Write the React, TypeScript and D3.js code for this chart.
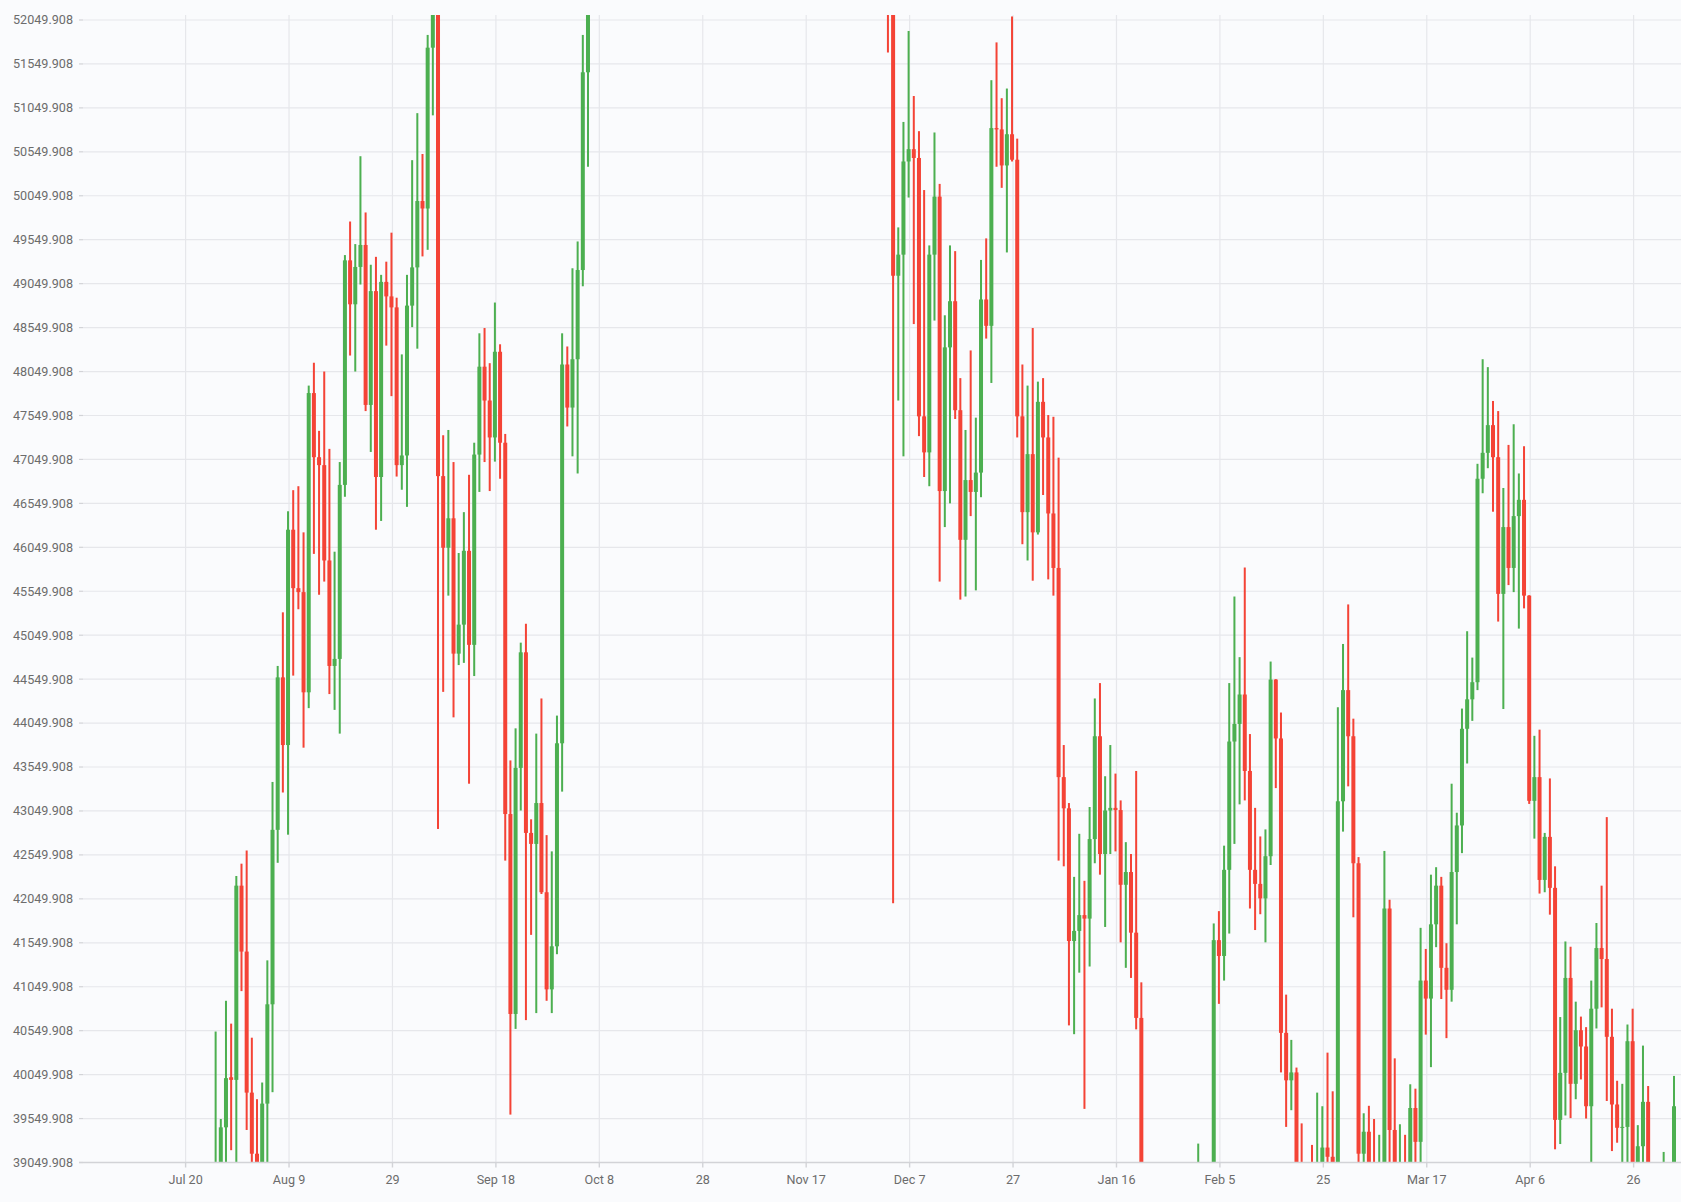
import React from 'react';
import * as d3 from 'd3';

// ---------- DATA (daily OHLC, one array per month: [open, high, low, close]) ----------
const jul2021 = [
  [35045, 35060, 32711, 33505], [33505, 33978, 32700, 33800], [33800, 34950, 33310, 34660], [34660, 35950, 34450, 35290],
  [35290, 35295, 33125, 33690], [33690, 35120, 33530, 34220], [34220, 35060, 33770, 33860], [33860, 33915, 32080, 32875],
  [32875, 34100, 32260, 33815], [33815, 34265, 33005, 33515], [33515, 34590, 33330, 34260], [34260, 34680, 32660, 33085],
  [33085, 33340, 32200, 32730], [32730, 33125, 31600, 32820], [32820, 33185, 31135, 31780], [31780, 32250, 31020, 31390],
  [31390, 31950, 31160, 31535], [31535, 32435, 31110, 31780], [31780, 31900, 30410, 30840], [30840, 31065, 29280, 29790],
  [29790, 32860, 29480, 32140], [32140, 32580, 31710, 32290], [32290, 33650, 31750, 33630], [33630, 34500, 33400, 34260],
  [34260, 35500, 33880, 35420], [35420, 40540, 35250, 37300], [37300, 39545, 36400, 39450], [39450, 40890, 38800, 40010],
  [40020, 40630, 39190, 39990], [39990, 42310, 38320, 42200], [42200, 42450, 41000, 41450],
];
const aug2021 = [
  [41450, 42600, 39420, 39845], [39845, 40470, 38700, 39150], [39150, 39770, 37640, 38200], [38200, 39960, 37500, 39720],
  [39720, 41350, 37330, 40850], [40850, 43380, 39850, 42835], [42835, 44700, 42460, 44570], [44570, 45310, 43260, 43800],
  [43800, 46460, 42780, 46250], [46250, 46700, 44590, 45585], [45585, 46745, 45345, 45540], [45540, 46220, 43770, 44400],
  [44400, 47890, 44220, 47805], [47805, 48150, 45975, 47075], [47075, 47375, 45510, 46985], [46985, 48050, 45660, 45900],
  [45900, 47170, 44380, 44700], [44700, 46000, 44200, 44780], [44780, 47020, 43930, 46760], [46760, 49375, 46625, 49315],
  [49315, 49757, 48232, 48815], [48815, 49500, 48050, 49240], [49240, 50500, 49040, 49490], [49490, 49860, 47600, 47670],
  [47670, 49265, 47135, 48965], [48965, 49355, 46250, 46850], [46850, 49150, 46350, 49070], [49070, 49300, 48345, 48905],
  [48905, 49630, 47770, 48780], [48780, 48890, 46855, 46985], [46985, 48245, 46705, 47095],
];
const sep2021 = [
  [47095, 49150, 46510, 48800], [48800, 50455, 48555, 49235], [49235, 50990, 48310, 49990], [49990, 50525, 49360, 49905],
  [49905, 51880, 49435, 51735], [51735, 52780, 50965, 52660], [52660, 52920, 42845, 46860], [46860, 47325, 44405, 46045],
  [46045, 47385, 45500, 46380], [46380, 47020, 44115, 44840], [44840, 45985, 44710, 45170], [45170, 46450, 44735, 46010],
  [46010, 46875, 43360, 44940], [44940, 47240, 44585, 47105], [47105, 48485, 46680, 48105], [48105, 48545, 47020, 47720],
  [47720, 48145, 46690, 47300], [47300, 48835, 47025, 48275], [48275, 48360, 46830, 47240], [47240, 47340, 42485, 43015],
  [43015, 43625, 39595, 40740], [40740, 43990, 40570, 43540], [43540, 44965, 43055, 44855], [44855, 45180, 40670, 42800],
  [42800, 42955, 41640, 42675], [42675, 43930, 40750, 43140], [43140, 44330, 42105, 42125], [42125, 42775, 40890, 41020],
  [41020, 42590, 40750, 41510], [41510, 44135, 41420, 43820],
];
const oct2021 = [
  [43820, 48485, 43270, 48130], [48130, 48335, 47425, 47640], [47640, 49225, 47085, 48190], [48190, 49530, 46890, 49205],
  [49205, 51880, 49020, 51455], [51455, 55750, 50380, 55320], [55320, 55340, 53360, 53800], [53800, 56100, 53620, 53965],
  [53965, 55490, 53660, 54965], [54965, 56560, 54090, 54690], [54690, 57840, 54420, 57480], [57480, 57680, 53880, 56005],
  [56005, 57740, 54170, 57370], [57370, 58530, 56820, 57345], [57345, 62930, 56850, 61670], [61670, 62330, 60150, 60875],
  [60875, 61720, 58960, 61530], [61530, 62700, 59845, 62040], [62040, 64490, 61320, 64260], [64260, 67000, 63480, 66000],
  [66000, 66640, 62000, 62190], [62190, 63730, 60000, 60690], [60690, 61750, 59670, 61290], [61290, 61490, 59510, 60850],
  [60850, 63710, 60650, 63080], [63080, 63290, 59820, 60330], [60330, 61500, 58000, 58410], [58410, 62500, 57820, 60575],
  [60575, 62980, 60175, 62255], [62255, 62360, 60720, 61880], [61880, 62400, 60000, 61300],
];
const nov2021 = [
  [61300, 62440, 59400, 61000], [61000, 64270, 60620, 63225], [63225, 63500, 60380, 62935], [62935, 63125, 60680, 61445],
  [61445, 62600, 60720, 61005], [61005, 61560, 60050, 61530], [61530, 63290, 61380, 63275], [63275, 67790, 63270, 67525],
  [67525, 68530, 66380, 66950], [66950, 69000, 62820, 64880], [64880, 65600, 64100, 64155], [64155, 65000, 62250, 64470],
  [64470, 64915, 63300, 64410], [64410, 65500, 63580, 65500], [65500, 66400, 63400, 63620], [63620, 63620, 58550, 60100],
  [60100, 60880, 58370, 60370], [60370, 60980, 56475, 56940], [56940, 58370, 55580, 58120], [58120, 59850, 57350, 59700],
  [59700, 60050, 58470, 58730], [58730, 59290, 55610, 56290], [56290, 57870, 55300, 57570], [57570, 57800, 55880, 57160],
  [57160, 59400, 56800, 58960], [58960, 59180, 53500, 53730], [53730, 55330, 53670, 54720], [54720, 57450, 53260, 57275],
  [57275, 58870, 56700, 57800], [57800, 59250, 56000, 56950],
];
const dec2021 = [
  [56950, 59040, 56460, 57185], [57185, 57380, 55840, 56480], [56480, 57600, 51680, 53600], [53600, 53860, 42000, 49140],
  [49140, 49690, 47720, 49380], [49380, 50890, 47085, 50440], [50440, 51925, 50030, 50580], [50580, 51185, 48590, 50480],
  [50480, 50785, 47315, 47540], [47540, 50115, 46850, 47130], [47130, 49485, 46745, 49380], [49380, 50770, 48630, 50040],
  [50040, 50185, 45660, 46690], [46690, 48690, 46280, 48325], [48325, 49485, 46550, 48850], [48850, 49420, 47510, 47610],
  [47610, 47975, 45455, 46135], [46135, 47385, 45490, 46815], [46815, 48290, 46405, 46680], [46680, 47525, 45560, 46900],
  [46900, 49320, 46620, 48870], [48870, 49565, 48425, 48570], [48570, 51365, 47920, 50820], [50820, 51795, 50380, 50805],
  [50805, 51160, 50140, 50395], [50395, 51270, 49405, 50750], [50750, 52090, 50440, 50460], [50460, 50700, 47300, 47540],
  [47540, 48130, 46085, 46450], [46450, 47890, 45900, 47110], [47110, 48545, 45670, 46220],
];
const jan2022 = [
  [46220, 47935, 46195, 47705], [47705, 47975, 46645, 47300], [47300, 47555, 45685, 46435], [46435, 47535, 45500, 45815],
  [45815, 47070, 42485, 43435], [43435, 43800, 42420, 43080], [43080, 43140, 40610, 41570], [41570, 42300, 40510, 41685],
  [41685, 42790, 41210, 41865], [41865, 42255, 39660, 41825], [41825, 43095, 41280, 42730], [42730, 44330, 42455, 43900],
  [43900, 44505, 42325, 42560], [42560, 43445, 41730, 43055], [43055, 43800, 42560, 43085], [43085, 43475, 42590, 43060],
  [43060, 43170, 41555, 42210], [42210, 42695, 41265, 42355], [42355, 42560, 41150, 41665], [41665, 43505, 40565, 40695],
  [40695, 41100, 35440, 36450], [36450, 36835, 34010, 35030], [35030, 36500, 34600, 36275], [36275, 37550, 32920, 36655],
  [36655, 37545, 35700, 36955], [36955, 38920, 36230, 36810], [36810, 37230, 35510, 37160], [37160, 38000, 36150, 37715],
  [37715, 38720, 37520, 38165], [38165, 38360, 37350, 37915], [37915, 38740, 36630, 38465],
];
const feb2022 = [
  [38465, 39265, 38000, 38690], [38690, 38855, 36590, 36895], [36895, 37390, 36250, 37310], [37310, 41770, 36900, 41580],
  [41580, 41910, 40855, 41400], [41400, 42655, 41120, 42380], [42380, 44505, 41655, 43840], [43840, 45490, 42675, 44040],
  [44040, 44800, 43125, 44375], [44375, 45820, 43170, 43505], [43505, 43925, 41940, 42380], [42380, 43085, 41695, 42220],
  [42220, 42760, 41875, 42055], [42055, 42840, 41555, 42535], [42535, 44750, 42435, 44545], [44545, 44550, 43310, 43875],
  [43875, 44170, 40075, 40525], [40525, 40960, 39455, 39985], [39985, 40445, 39645, 40075], [40075, 40130, 38000, 38390],
  [38390, 39495, 36800, 37010], [37010, 38430, 36350, 38230], [38230, 39250, 37035, 37250], [37250, 39845, 34320, 38330],
  [38330, 39690, 38015, 39220], [39220, 40300, 38600, 39115], [39115, 39860, 37000, 37700], [37700, 44230, 37450, 43160],
];
const mar2022 = [
  [43160, 44950, 42815, 44425], [44425, 45400, 43330, 43900], [43900, 44100, 41840, 42455], [42455, 42525, 38550, 39150],
  [39150, 39610, 38090, 39400], [39400, 39695, 38090, 38420], [38420, 39545, 37155, 37990], [37990, 39365, 37870, 38730],
  [38730, 42595, 38655, 41940], [41940, 42040, 38540, 39420], [39420, 40235, 38225, 38730], [38730, 39485, 38660, 38810],
  [38810, 39365, 37580, 37780], [37780, 39940, 37555, 39670], [39670, 39890, 38100, 39285], [39285, 41720, 38830, 41120],
  [41120, 41480, 40505, 40915], [40915, 42325, 40135, 41760], [41760, 42410, 41500, 42200], [42200, 42300, 40910, 41265],
  [41265, 41545, 40465, 41015], [41015, 43360, 40880, 42355], [42355, 43030, 41760, 42885], [42885, 44215, 42570, 43985],
  [43985, 45095, 43590, 44320], [44320, 44795, 44075, 44515], [44515, 47000, 44425, 46830], [46830, 48190, 46665, 47125],
  [47125, 48100, 46950, 47440], [47440, 47715, 46455, 47075], [47075, 47600, 45205, 45520],
];
const apr2022 = [
  [45520, 46725, 44210, 46280], [46280, 47215, 45620, 45815], [45815, 47450, 45540, 46405], [46405, 46890, 45125, 46590],
  [46590, 47200, 45355, 45500], [45500, 45505, 43130, 43165], [43165, 43905, 42735, 43435], [43435, 43975, 42110, 42265],
  [42265, 42800, 42125, 42755], [42755, 43420, 41870, 42175], [42175, 42420, 39200, 39535], [39535, 40705, 39260, 40070],
  [40070, 41565, 39585, 41150], [41150, 41505, 39555, 39945], [39945, 40880, 39770, 40555], [40555, 40710, 39995, 40370],
  [40370, 40590, 39550, 39690], [39690, 41120, 38540, 40800], [40800, 41775, 40575, 41490], [41490, 42200, 40815, 41365],
  [41365, 42980, 39750, 40480], [40480, 40800, 39180, 39710], [39710, 39980, 39275, 39445], [39445, 39945, 38930, 39455],
  [39455, 40620, 38200, 40430], [40430, 40800, 37700, 38110], [38110, 39475, 37880, 39235], [39235, 40380, 38880, 39740],
  [39740, 39920, 38175, 38595], [38595, 38795, 37580, 37630],
];
const may2022 = [
  [37630, 38675, 37385, 38470], [38470, 39170, 38055, 38525], [38525, 38655, 37515, 37730], [37730, 40035, 37670, 39690],
];

const monthBlocks: [string, number[][]][] = [
  ['2021-07-01', jul2021], ['2021-08-01', aug2021], ['2021-09-01', sep2021], ['2021-10-01', oct2021],
  ['2021-11-01', nov2021], ['2021-12-01', dec2021], ['2022-01-01', jan2022], ['2022-02-01', feb2022],
  ['2022-03-01', mar2022], ['2022-04-01', apr2022], ['2022-05-01', may2022],
];

// axis values
const yTickStart = 39049.908;
const yTickStep = 500;
const yTickCount = 27;
const xTickDates = ['2021-07-20', '2021-08-09', '2021-08-29', '2021-09-18', '2021-10-08', '2021-10-28', '2021-11-17',
  '2021-12-07', '2021-12-27', '2022-01-16', '2022-02-05', '2022-02-25', '2022-03-17', '2022-04-06', '2022-04-26'];
const xTickLabels = ['Jul 20', 'Aug 9', '29', 'Sep 18', 'Oct 8', '28', 'Nov 17', 'Dec 7', '27', 'Jan 16', 'Feb 5', '25', 'Mar 17', 'Apr 6', '26'];
const xDomain = ['2021-06-30T03:50:00Z', '2022-05-05T03:50:00Z'];
const yDomain = [39049.908, 52106.8];

// ---------- LAYOUT ----------
const W = 1681;
const H = 1202;
const PLOT_LEFT = 83;
const PLOT_RIGHT = 1681;
const PLOT_TOP = 15;
const PLOT_BOTTOM = 1162.5;

const UP = '#4caf50';
const DOWN = '#f44336';
const GRID = '#e6e7eb';
const AXIS = '#d2d3d7';
const LABEL = '#6c6c6c';
const BG = '#fafbfd';
const FONT = 'Roboto, "Noto Sans", sans-serif';

const DAY = 86400000;

type Candle = { date: Date; o: number; h: number; l: number; c: number };

const candles: Candle[] = monthBlocks.flatMap(([start, rows]) => {
  const t0 = Date.parse(start + 'T00:00:00Z');
  return rows.map((r, i) => ({ date: new Date(t0 + i * DAY), o: r[0], h: r[1], l: r[2], c: r[3] }));
});

export default function App() {
  const x = d3.scaleUtc().domain(xDomain.map((s) => new Date(s))).range([PLOT_LEFT, PLOT_RIGHT]);
  const y = d3.scaleLinear().domain(yDomain).range([PLOT_BOTTOM, PLOT_TOP]);
  const yTicks = d3.range(yTickCount).map((i) => yTickStart + i * yTickStep);
  const xTicks = xTickDates.map((s) => new Date(s + 'T00:00:00Z'));
  const bodyW = 4;
  const wickW = 2;

  return (
    <div style={{ position: 'absolute', left: 0, top: 0, width: W, height: H, background: BG }}>
      <svg width={W} height={H} style={{ display: 'block' }}>
        <defs>
          <clipPath id="plotClip">
            <rect x={PLOT_LEFT} y={PLOT_TOP} width={PLOT_RIGHT - PLOT_LEFT} height={PLOT_BOTTOM - PLOT_TOP} />
          </clipPath>
        </defs>
        <rect x={0} y={0} width={W} height={H} fill={BG} />

        {/* vertical grid */}
        {xTicks.map((d, i) => (
          <line key={'vg' + i} x1={x(d)} x2={x(d)} y1={PLOT_TOP} y2={PLOT_BOTTOM} stroke={GRID} strokeWidth={1.2} />
        ))}
        {/* horizontal grid + y labels */}
        {yTicks.map((v, i) => (
          <g key={'hg' + i}>
            <line x1={PLOT_LEFT} x2={PLOT_RIGHT} y1={y(v)} y2={y(v)} stroke={GRID} strokeWidth={1.2} />
            <line x1={PLOT_LEFT - 4} x2={PLOT_LEFT} y1={y(v)} y2={y(v)} stroke={AXIS} strokeWidth={1.2} />
            <text x={PLOT_LEFT - 10} y={y(v)} dy="0.35em" textAnchor="end" fontFamily={FONT} fontSize={12.6} fill={LABEL}>
              {v.toFixed(3)}
            </text>
          </g>
        ))}

        {/* candles */}
        <g clipPath="url(#plotClip)">
          {candles.map((d, i) => {
            const cx = x(d.date) - 1;
            const col = d.c >= d.o ? UP : DOWN;
            const top = y(Math.max(d.o, d.c));
            const bot = y(Math.min(d.o, d.c));
            return (
              <g key={'c' + i}>
                <rect x={cx - wickW / 2} y={y(d.h)} width={wickW} height={Math.max(0.5, y(d.l) - y(d.h))} fill={col} />
                <rect x={cx - bodyW / 2} y={top} width={bodyW} height={Math.max(1, bot - top)} fill={col} />
              </g>
            );
          })}
        </g>

        {/* x axis */}
        <line x1={PLOT_LEFT - 4} x2={PLOT_RIGHT} y1={PLOT_BOTTOM} y2={PLOT_BOTTOM} stroke={AXIS} strokeWidth={1.6} />
        {xTicks.map((d, i) => (
          <g key={'xt' + i}>
            <line x1={x(d)} x2={x(d)} y1={PLOT_BOTTOM} y2={PLOT_BOTTOM + 5} stroke={AXIS} strokeWidth={1.4} />
            <text x={x(d)} y={PLOT_BOTTOM + 21} textAnchor="middle" fontFamily={FONT} fontSize={12.6} fill={LABEL}>
              {xTickLabels[i]}
            </text>
          </g>
        ))}
      </svg>
    </div>
  );
}
